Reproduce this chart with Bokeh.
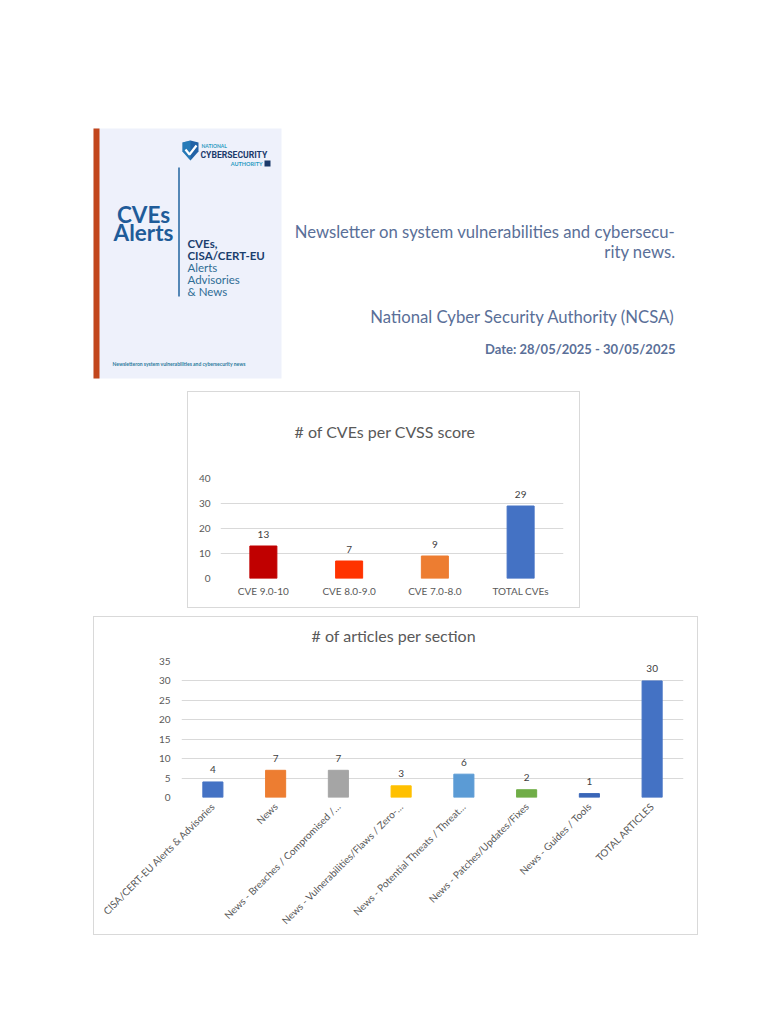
import math
from bokeh.plotting import figure
from bokeh.models import Range1d, FactorRange, ColumnDataSource, Spacer, FixedTicker
from bokeh.layouts import column, row
from bokeh.core.properties import value
from bokeh.embed import file_html
from bokeh.resources import INLINE

FONT = "Lato"

# ---------------- data ----------------
cvss_categories = ["CVE 9.0-10", "CVE 8.0-9.0", "CVE 7.0-8.0", "TOTAL CVEs"]
cvss_counts = [13, 7, 9, 29]
cvss_colors = ["#C00000", "#FF3300", "#ED7D31", "#4472C4"]
cvss_ticks = [0, 10, 20, 30, 40]
cvss_title = "# of CVEs per CVSS score"

section_categories = [
    "CISA/CERT-EU Alerts & Advisories",
    "News",
    "News - Breaches / Compromised /\u2026",
    "News - Vulnerabilities/Flaws / Zero-\u2026",
    "News - Potential Threats / Threat\u2026",
    "News - Patches/Updates/Fixes",
    "News - Guides / Tools",
    "TOTAL ARTICLES",
]
section_counts = [4, 7, 7, 3, 6, 2, 1, 30]
section_colors = ["#4472C4", "#ED7D31", "#A5A5A5", "#FFC000", "#5B9BD5", "#70AD47", "#3A66B8", "#4472C4"]
section_ticks = [0, 5, 10, 15, 20, 25, 30, 35]
section_title = "# of articles per section"

header_lines = [
    "Newsletter on system vulnerabilities and cybersecu-",
    "rity news.",
    "National Cyber Security Authority (NCSA)",
]
header_date = "Date: 28/05/2025 - 30/05/2025"

cover_big = ["CVEs", "Alerts"]
cover_bold = ["CVEs,", "CISA/CERT-EU"]
cover_regular = ["Alerts", "Advisories", "& News"]
cover_footer = "Newsletteron system vulnerabilities and cybersecurity news"
logo_lines = ["NATIONAL", "CYBERSECURITY", "AUTHORITY"]

HEADER_COLOR = "#5A6F98"
GRID = "#D9D9D9"
LABEL_COLOR = "#595959"

# ---------------- top section (page coordinates) ----------------
p0 = figure(width=752, height=391, x_range=Range1d(0, 752), y_range=Range1d(391, 0),
            x_axis_type=None, y_axis_type=None, min_border=0,
            output_backend="svg", toolbar_location=None)
p0.grid.visible = False
p0.outline_line_color = None

# cover background and stripe
p0.quad(left=[93], right=[281], top=[128], bottom=[378], fill_color="#EEF1FB", line_color=None)
p0.quad(left=[93], right=[99], top=[128], bottom=[378], fill_color="#C2461D", line_color=None)
# logo shield
p0.patch([182, 190, 198, 198, 190, 182], [142, 140, 142, 151, 160, 151], fill_color="#2262A6", line_color=None)
p0.patch([182, 190, 190, 182], [142, 140, 160, 151], fill_color="#2C8CC4", line_color=None, fill_alpha=0.6)
p0.line([185, 189, 196], [149, 154, 145], line_color="white", line_width=2.2)
p0.text(x=[201], y=[145], text=[logo_lines[0]], text_font=value(FONT), text_font_style="bold",
        text_font_size="5px", text_color="#2A9BC2", text_baseline="middle")
p0.text(x=[200], y=[154], text=[logo_lines[1]], text_font=value("Roboto"), text_font_style="bold",
        text_font_size="8.6px", text_color="#1B3A6B", text_baseline="middle")
p0.text(x=[262], y=[163], text=[logo_lines[2]], text_font=value(FONT), text_font_style="bold",
        text_font_size="5.5px", text_color="#2A9BC2", text_baseline="middle", text_align="right")
p0.quad(left=[264], right=[270], top=[160], bottom=[166], fill_color="#1B3A6B", line_color=None)
# vertical divider
p0.line([178.5, 178.5], [167, 296], line_color="#2D6DA5", line_width=1.6)
# big title
p0.text(x=[143, 143], y=[214, 232], text=cover_big, text_font=value(FONT), text_font_style="bold",
        text_font_size="22.5px", text_color="#1F5C99", text_align="center", text_baseline="middle")
p0.text(x=[187, 187], y=[243, 255], text=cover_bold, text_font=value(FONT), text_font_style="bold",
        text_font_size="11.5px", text_color="#1B3F6E", text_baseline="middle")
p0.text(x=[187, 187, 187], y=[267, 279, 291], text=cover_regular, text_font=value(FONT),
        text_font_size="11.5px", text_color="#2F6D95", text_baseline="middle")
p0.text(x=[112], y=[363], text=[cover_footer], text_font=value(FONT), text_font_style="bold",
        text_font_size="5px", text_color="#2A7A9B", text_baseline="middle")

# header text
p0.text(x=[675, 675, 675], y=[231, 251, 316], text=header_lines, text_font=value(FONT),
        text_font_size="16.7px", text_color=HEADER_COLOR, text_align="right", text_baseline="middle")
p0.text(x=[675], y=[348], text=[header_date], text_font=value(FONT), text_font_style="bold",
        text_font_size="13px", text_color=HEADER_COLOR, text_align="right", text_baseline="middle")


def style_chart(p, ticks):
    p.outline_line_color = None
    p.border_fill_color = None
    p.background_fill_color = None
    p.xgrid.grid_line_color = None
    p.ygrid.grid_line_color = GRID
    p.ygrid.ticker = FixedTicker(ticks=ticks)
    p.yaxis.ticker = FixedTicker(ticks=ticks)
    for ax in (p.xaxis, p.yaxis):
        ax.axis_line_color = None
        ax.major_tick_line_color = None
        ax.minor_tick_line_color = None
        ax.major_tick_out = 0
        ax.major_tick_in = 0
        ax.major_label_text_font = FONT
        ax.major_label_text_font_size = "10px"
        ax.major_label_text_color = LABEL_COLOR
    p.title.text_font = FONT
    p.title.text_font_size = "16px"
    p.title.text_font_style = "normal"
    p.title.text_color = LABEL_COLOR
    p.title.align = "left"
    p.styles = {"box-shadow": "inset 0 0 0 1px #D9D9D9", "background-color": "white"}


# ---------------- chart 1 ----------------
src1 = ColumnDataSource(dict(cat=cvss_categories, val=cvss_counts, color=cvss_colors,
                             lab=[str(v) for v in cvss_counts]))
p1 = figure(width=393, height=217, x_range=FactorRange(factors=cvss_categories),
            y_range=Range1d(0, 40), output_backend="svg", toolbar_location=None,
            title=cvss_title,
            min_border_left=33, min_border_right=17, min_border_top=87, min_border_bottom=30)
p1.vbar(x="cat", top="val", width=0.315, color="color", source=src1)
p1.text(x="cat", y="val", text="lab", source=src1, y_offset=-12, text_align="center",
        text_baseline="middle", text_font=value(FONT), text_font_size="10px", text_color="#404040")
style_chart(p1, cvss_ticks)
p1.yaxis.major_label_standoff = 10
p1.xaxis.major_label_standoff = 6
p1.title.offset = 74
p1.title.standoff = 4
p1.title.padding = dict(left=0, right=0, top=0, bottom=36)

# ---------------- chart 2 ----------------
src2 = ColumnDataSource(dict(cat=section_categories, val=section_counts, color=section_colors,
                             lab=[str(v) for v in section_counts]))
p2 = figure(width=605, height=319, x_range=FactorRange(factors=section_categories),
            y_range=Range1d(0, 35), output_backend="svg", toolbar_location=None,
            title=section_title,
            min_border_left=88, min_border_right=15, min_border_top=45, min_border_bottom=138)
p2.vbar(x="cat", top="val", width=0.32, color="color", source=src2)
p2.text(x="cat", y="val", text="lab", source=src2, y_offset=-12, text_align="center",
        text_baseline="middle", text_font=value(FONT), text_font_size="10px", text_color="#404040")
style_chart(p2, section_ticks)
p2.yaxis.major_label_standoff = 11
p2.xaxis.major_label_standoff = 7
p2.xaxis.major_label_orientation = math.pi / 4
p2.title.offset = 130
p2.title.standoff = 4
p2.title.padding = dict(left=0, right=0, top=0, bottom=15)

layout = column(
    p0,
    row(Spacer(width=187, height=217), p1),
    Spacer(width=10, height=8),
    row(Spacer(width=93, height=319), p2),
)

open("out.html", "w").write(file_html(layout, INLINE))
